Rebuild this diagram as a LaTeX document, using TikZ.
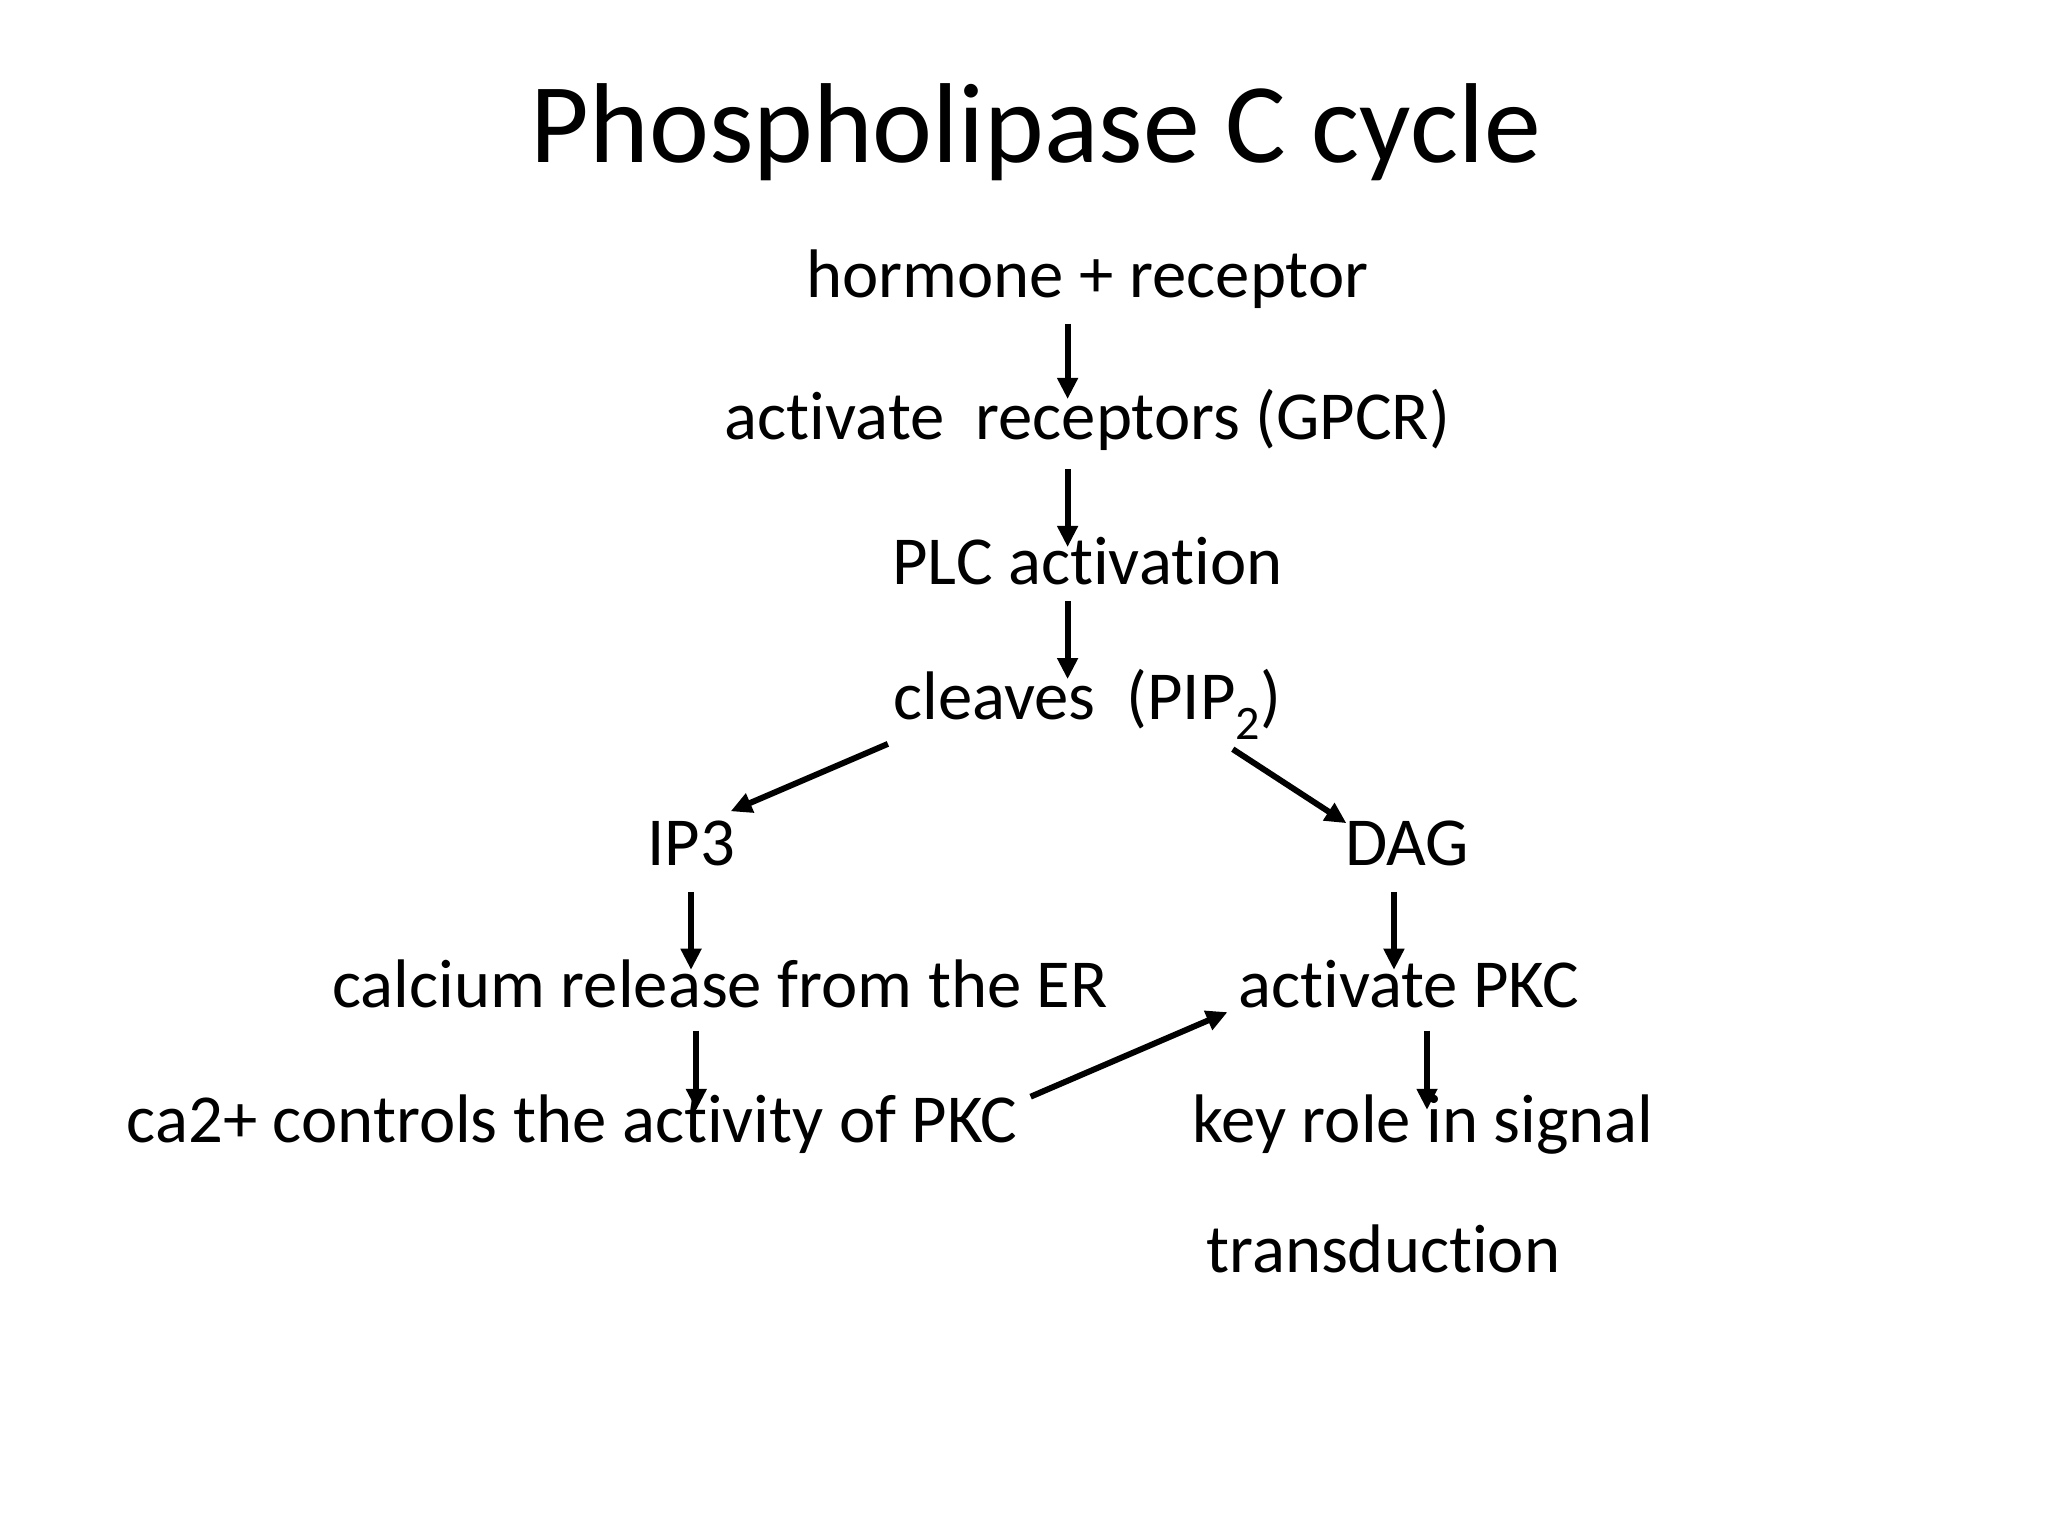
\documentclass[tikz,border=0pt]{standalone}
\usepackage{fontspec}
\setmainfont[Ligatures=NoCommon]{Carlito}
\usetikzlibrary{arrows.meta}
\begin{document}
\begin{tikzpicture}[x=1pt,y=-1pt,
  lbl/.style={font=\fontsize{52}{60}\selectfont, inner sep=0pt, anchor=center},
  arr/.style={line width=4.5pt, -{Triangle[length=16pt,width=15pt]}}]
\useasboundingbox (0,0) rectangle (1550,1163);
\fill[white] (0,0) rectangle (1550,1163);
\node[font=\fontsize{86}{96}\selectfont, inner sep=0pt] (title) at (784,100) {Phospholipase C cycle};
\node[lbl] (hr) at (823,211) {hormone + receptor};
\node[lbl] (ar) at (823,318) {activate\ \ receptors (GPCR)};
\node[lbl] (plc) at (823,425) {PLC activation};
\node[lbl] (cl) at (823,533) {cleaves\ \ (PIP\textsubscript{2})};
\node[lbl] (ip3) at (523,638) {IP3};
\node[lbl] (dag) at (1065,638) {DAG};
\node[lbl] (ca) at (545,745) {calcium release from the ER};
\node[lbl] (pkc) at (1066,745) {activate PKC};
\node[lbl] (ctl) at (433,851) {ca2+ controls the activity of PKC};
\node[lbl] (key) at (1077,851) {key role in signal};
\node[lbl] (tr) at (1047,945) {transduction};
\foreach \n/\x/\y in {a1/808/245,b1/808/302,a2/808/355,b2/808/414,a3/808/455,b3/808/514,
  a4/672/563,b4/553/614,a5/933/567,b5/1019/623,a6/523/675,b6/523/734,a7/1055/675,b7/1055/734,
  a8/527/780,b8/527/840,a9/1080/780,b9/1080/840,a10/780/830,b10/929/766}
  \coordinate (\n) at (\x,\y);
\foreach \i in {1,...,10} \draw[arr] (a\i) -- (b\i);
\end{tikzpicture}
\end{document}
